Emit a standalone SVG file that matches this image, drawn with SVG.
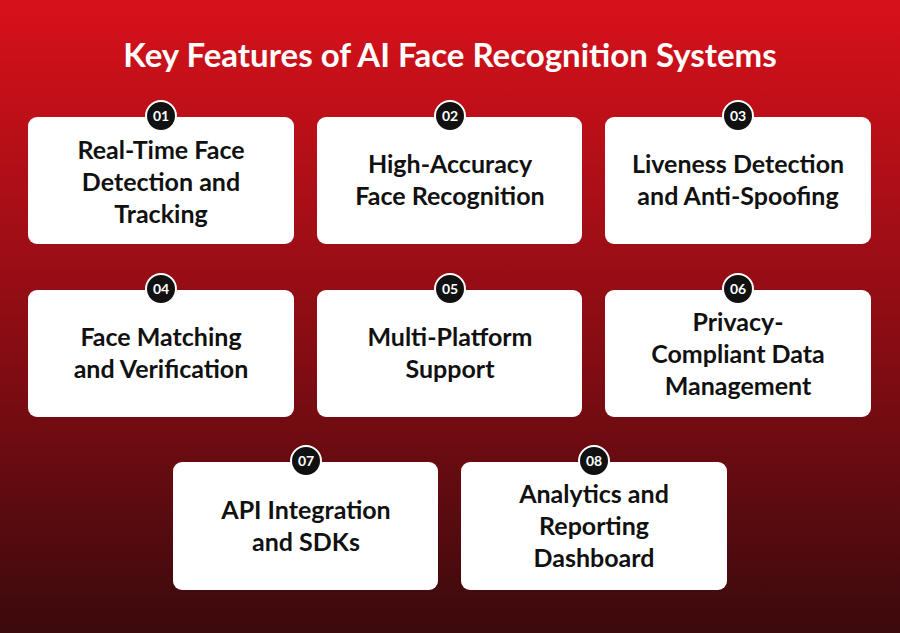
<svg xmlns="http://www.w3.org/2000/svg" width="900" height="633" viewBox="0 0 900 633">
<defs>
<linearGradient id="bg" x1="0" y1="0" x2="0" y2="1">
<stop offset="0" stop-color="#d8111b"/>
<stop offset="0.5" stop-color="#8e0d14"/>
<stop offset="1" stop-color="#3a0a0d"/>
</linearGradient>
<style>
.card{fill:#fff}
.badge{fill:#111;stroke:#fff;stroke-width:2}
.num{fill:#fff;font-family:Lato,"Liberation Sans",sans-serif;font-weight:700;font-size:14px;text-anchor:middle}
.lbl{fill:#111;font-family:Lato,"Liberation Sans",sans-serif;font-weight:700;font-size:25px;text-anchor:middle}
.title{fill:#fff;font-family:Lato,"Liberation Sans",sans-serif;font-weight:700;font-size:33px;text-anchor:middle}
</style>
</defs>
<rect width="900" height="633" fill="url(#bg)"/>
<text class="title" x="450" y="67">Key Features of AI Face Recognition Systems</text>
<g id="n1"><rect class="card" x="28" y="117" width="266" height="127" rx="9"/><circle class="badge" cx="161" cy="116" r="15"/><text class="num" x="161" y="121">01</text><text class="lbl" x="161" y="159">Real-Time Face</text><text class="lbl" x="161" y="191">Detection and</text><text class="lbl" x="161" y="223">Tracking</text></g>
<g id="n2"><rect class="card" x="317" y="117" width="265" height="127" rx="9"/><circle class="badge" cx="450" cy="116" r="15"/><text class="num" x="450" y="121">02</text><text class="lbl" x="450" y="173">High-Accuracy</text><text class="lbl" x="450" y="205">Face Recognition</text></g>
<g id="n3"><rect class="card" x="605" y="117" width="266" height="127" rx="9"/><circle class="badge" cx="738" cy="116" r="15"/><text class="num" x="738" y="121">03</text><text class="lbl" x="738" y="173">Liveness Detection</text><text class="lbl" x="738" y="205">and Anti-Spoofing</text></g>
<g id="n4"><rect class="card" x="28" y="290" width="266" height="127" rx="9"/><circle class="badge" cx="161" cy="289" r="15"/><text class="num" x="161" y="294">04</text><text class="lbl" x="161" y="346">Face Matching</text><text class="lbl" x="161" y="378">and Verification</text></g>
<g id="n5"><rect class="card" x="317" y="290" width="265" height="127" rx="9"/><circle class="badge" cx="450" cy="289" r="15"/><text class="num" x="450" y="294">05</text><text class="lbl" x="450" y="346">Multi-Platform</text><text class="lbl" x="450" y="378">Support</text></g>
<g id="n6"><rect class="card" x="605" y="290" width="266" height="127" rx="9"/><circle class="badge" cx="738" cy="289" r="15"/><text class="num" x="738" y="294">06</text><text class="lbl" x="738" y="331">Privacy-</text><text class="lbl" x="738" y="363">Compliant Data</text><text class="lbl" x="738" y="395">Management</text></g>
<g id="n7"><rect class="card" x="173" y="462" width="265" height="128" rx="9"/><circle class="badge" cx="306" cy="461" r="15"/><text class="num" x="306" y="466">07</text><text class="lbl" x="306" y="519">API Integration</text><text class="lbl" x="306" y="551">and SDKs</text></g>
<g id="n8"><rect class="card" x="461" y="462" width="266" height="128" rx="9"/><circle class="badge" cx="594" cy="461" r="15"/><text class="num" x="594" y="466">08</text><text class="lbl" x="594" y="503">Analytics and</text><text class="lbl" x="594" y="535">Reporting</text><text class="lbl" x="594" y="567">Dashboard</text></g>
<g id="connectors"/>
</svg>
